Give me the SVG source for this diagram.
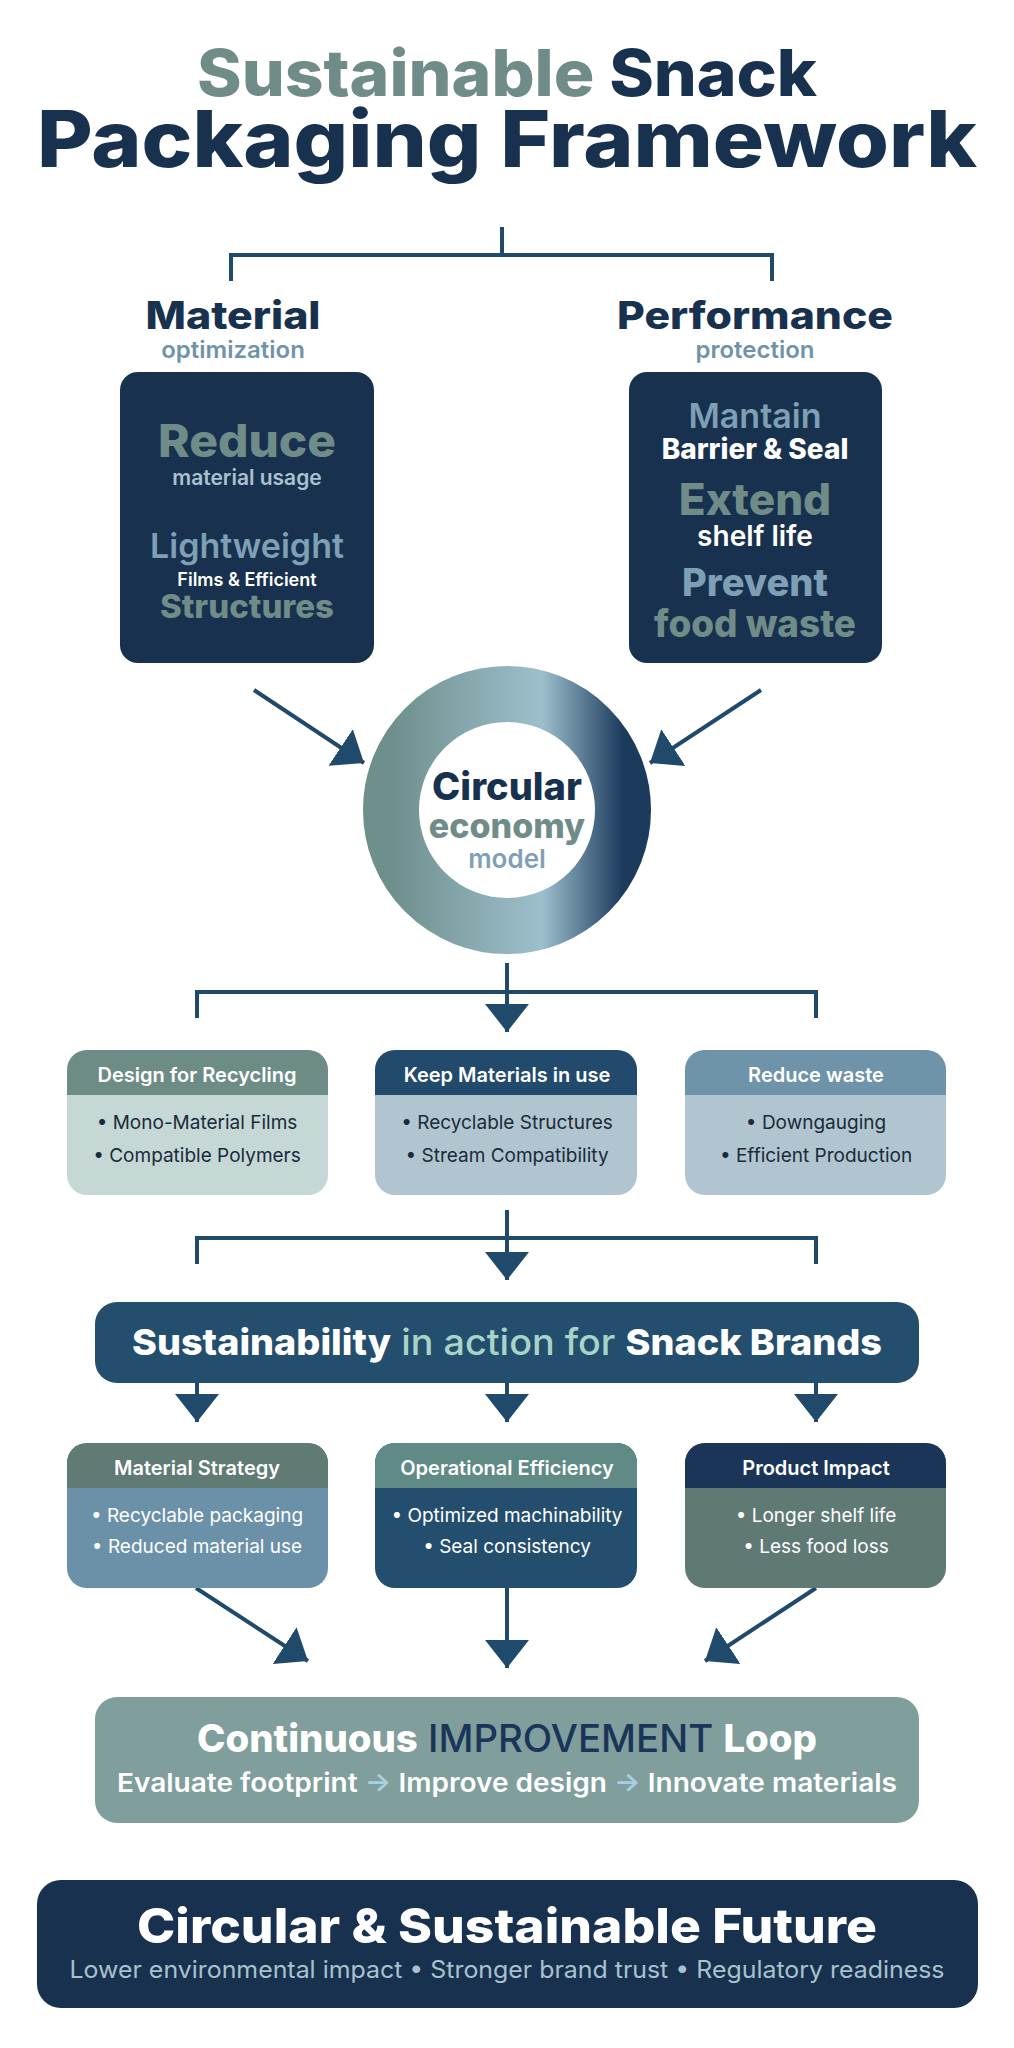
<svg xmlns="http://www.w3.org/2000/svg" width="1014" height="2048" viewBox="0 0 1014 2048">
<defs>
<linearGradient id="ring" x1="0" y1="0" x2="1" y2="0">
<stop offset="0" stop-color="#6f8f8c"/><stop offset="0.65" stop-color="#9dbfcd"/><stop offset="1" stop-color="#1c3a5c"/>
</linearGradient>
<marker id="ah" viewBox="0 0 7 11" refX="7" refY="5.5" markerWidth="7" markerHeight="11" markerUnits="strokeWidth" orient="auto"><path d="M0,0 L7,5.5 L0,11 Z" fill="#1f4a6b"/></marker>
</defs>
<style>
text{font-family:Inter,"Open Sans","Liberation Sans",sans-serif;text-anchor:middle}
.b{font-weight:800}
.m{font-weight:600}
.ln{fill:none;stroke:#1f4a6b;stroke-width:4}
.ar{fill:none;stroke:#1f4a6b;stroke-width:4;marker-end:url(#ah)}
.hd{font-size:20px;font-weight:600;fill:#fff}
.bl{font-size:19px}
</style>
<rect width="1014" height="2048" fill="#fff"/>
<g id="title">
<text x="507" y="96" class="b" font-size="64" textLength="620" lengthAdjust="spacingAndGlyphs"><tspan fill="#6f8c89">Sustainable</tspan><tspan fill="#17314f"> Snack</tspan></text>
<text x="507" y="167" class="b" font-size="78" fill="#17314f" textLength="940" lengthAdjust="spacingAndGlyphs">Packaging Framework</text>
</g>
<g id="connectors">
<path class="ln" d="M502,227 V255 M231,281 V255 H772 V281"/>
<line class="ar" x1="254" y1="690" x2="364" y2="763"/>
<line class="ar" x1="761" y1="690" x2="650" y2="763"/>
<path class="ln" d="M197,1018 V992 H816 V1018"/>
<line class="ar" x1="507" y1="963" x2="507" y2="1032"/>
<path class="ln" d="M197,1264 V1238 H816 V1264"/>
<line class="ar" x1="507" y1="1210" x2="507" y2="1280"/>
<line class="ar" x1="197" y1="1383" x2="197" y2="1422"/>
<line class="ar" x1="507" y1="1383" x2="507" y2="1422"/>
<line class="ar" x1="816" y1="1383" x2="816" y2="1422"/>
<line class="ar" x1="196" y1="1588" x2="308" y2="1661"/>
<line class="ar" x1="507" y1="1588" x2="507" y2="1668"/>
<line class="ar" x1="816" y1="1588" x2="705" y2="1661"/>
</g>
<g id="material">
<text x="233" y="329" class="b" font-size="38" fill="#17314f" textLength="175" lengthAdjust="spacingAndGlyphs">Material</text>
<text x="233" y="358" class="m" font-size="24" fill="#6f93a8">optimization</text>
<rect x="120" y="372" width="254" height="291" rx="18" fill="#17314f"/>
<text x="247" y="457" class="b" font-size="45" fill="#6f8c89" textLength="178" lengthAdjust="spacingAndGlyphs">Reduce</text>
<text x="247" y="485" class="m" font-size="21" fill="#a9c1cf">material usage</text>
<text x="247" y="558" class="m" font-size="34" fill="#7f9fb5">Lightweight</text>
<text x="247" y="586" class="m" font-size="18" fill="#fff">Films &amp; Efficient</text>
<text x="247" y="618" class="b" font-size="33" fill="#6f8c89">Structures</text>
</g>
<g id="performance">
<text x="755" y="329" class="b" font-size="38" fill="#17314f" textLength="276" lengthAdjust="spacingAndGlyphs">Performance</text>
<text x="755" y="358" class="m" font-size="24" fill="#6f93a8">protection</text>
<rect x="629" y="372" width="253" height="291" rx="18" fill="#17314f"/>
<text x="755" y="428" class="m" font-size="34" fill="#7f9fb5">Mantain</text>
<text x="755" y="459" class="b" font-size="28" fill="#fff">Barrier &amp; Seal</text>
<text x="755" y="515" class="b" font-size="44" fill="#6f8c89">Extend</text>
<text x="755" y="546" class="m" font-size="28" fill="#fff">shelf life</text>
<text x="755" y="596" class="b" font-size="38" fill="#7f9fb5">Prevent</text>
<text x="755" y="637" class="b" font-size="38" fill="#6f8c89" textLength="202" lengthAdjust="spacingAndGlyphs">food waste</text>
</g>
<g id="circular">
<circle cx="507" cy="810" r="116" fill="none" stroke="url(#ring)" stroke-width="56"/>
<text x="507" y="800" class="b" font-size="38" fill="#17314f">Circular</text>
<text x="507" y="838" class="b" font-size="34" fill="#6f8c89">economy</text>
<text x="507" y="868" class="m" font-size="26" fill="#7f9fb5">model</text>
</g>
<g id="design">
<rect x="67" y="1050" width="261" height="145" rx="20" fill="#c5d8d5"/>
<path d="M67,1095 V1070 a20,20 0 0 1 20,-20 H308 a20,20 0 0 1 20,20 V1095 Z" fill="#6e8c86"/>
<text x="197" y="1082" class="hd">Design for Recycling</text>
<text x="197" y="1129" class="bl" fill="#1a2a3a">• Mono-Material Films</text>
<text x="197" y="1162" class="bl" fill="#1a2a3a">• Compatible Polymers</text>
</g>
<g id="keep">
<rect x="375" y="1050" width="262" height="145" rx="20" fill="#b1c5d0"/>
<path d="M375,1095 V1070 a20,20 0 0 1 20,-20 H617 a20,20 0 0 1 20,20 V1095 Z" fill="#214a6c"/>
<text x="507" y="1082" class="hd">Keep Materials in use</text>
<text x="507" y="1129" class="bl" fill="#1a2a3a">• Recyclable Structures</text>
<text x="507" y="1162" class="bl" fill="#1a2a3a">• Stream Compatibility</text>
</g>
<g id="reduce">
<rect x="685" y="1050" width="261" height="145" rx="20" fill="#b1c5d0"/>
<path d="M685,1095 V1070 a20,20 0 0 1 20,-20 H926 a20,20 0 0 1 20,20 V1095 Z" fill="#6f93a8"/>
<text x="816" y="1082" class="hd">Reduce waste</text>
<text x="816" y="1129" class="bl" fill="#1a2a3a">• Downgauging</text>
<text x="816" y="1162" class="bl" fill="#1a2a3a">• Efficient Production</text>
</g>
<g id="action">
<rect x="95" y="1302" width="824" height="81" rx="22" fill="#244e6e"/>
<text x="507" y="1355" font-size="36" textLength="750" lengthAdjust="spacingAndGlyphs"><tspan class="b" fill="#fff">Sustainability</tspan><tspan fill="#a8d4c8" font-weight="500"> in action for </tspan><tspan class="b" fill="#fff">Snack Brands</tspan></text>
</g>
<g id="strategy">
<rect x="67" y="1443" width="261" height="145" rx="20" fill="#6b91a8"/>
<path d="M67,1488 V1463 a20,20 0 0 1 20,-20 H308 a20,20 0 0 1 20,20 V1488 Z" fill="#607a74"/>
<text x="197" y="1475" class="hd">Material Strategy</text>
<text x="197" y="1522" class="bl" fill="#fff">• Recyclable packaging</text>
<text x="197" y="1553" class="bl" fill="#fff">• Reduced material use</text>
</g>
<g id="operational">
<rect x="375" y="1443" width="262" height="145" rx="20" fill="#244e6e"/>
<path d="M375,1488 V1463 a20,20 0 0 1 20,-20 H617 a20,20 0 0 1 20,20 V1488 Z" fill="#5f8a86"/>
<text x="507" y="1475" class="hd">Operational Efficiency</text>
<text x="507" y="1522" class="bl" fill="#fff">• Optimized machinability</text>
<text x="507" y="1553" class="bl" fill="#fff">• Seal consistency</text>
</g>
<g id="impact">
<rect x="685" y="1443" width="261" height="145" rx="20" fill="#5f7a74"/>
<path d="M685,1488 V1463 a20,20 0 0 1 20,-20 H926 a20,20 0 0 1 20,20 V1488 Z" fill="#1a3558"/>
<text x="816" y="1475" class="hd">Product Impact</text>
<text x="816" y="1522" class="bl" fill="#fff">• Longer shelf life</text>
<text x="816" y="1553" class="bl" fill="#fff">• Less food loss</text>
</g>
<g id="loop">
<rect x="95" y="1697" width="824" height="126" rx="22" fill="#7f9e9c"/>
<text x="507" y="1752" font-size="38" textLength="620" lengthAdjust="spacingAndGlyphs"><tspan class="b" fill="#fff">Continuous</tspan><tspan fill="#1a3558" font-weight="500"> IMPROVEMENT </tspan><tspan class="b" fill="#fff">Loop</tspan></text>
<text x="507" y="1792" class="m" font-size="26" fill="#fff" textLength="780" lengthAdjust="spacingAndGlyphs">Evaluate footprint <tspan fill="#a8d0e0">→</tspan> Improve design <tspan fill="#a8d0e0">→</tspan> Innovate materials</text>
</g>
<g id="future">
<rect x="37" y="1880" width="941" height="128" rx="24" fill="#17314f"/>
<text x="507" y="1943" class="b" font-size="48" fill="#fff" textLength="740" lengthAdjust="spacingAndGlyphs">Circular &amp; Sustainable Future</text>
<text x="507" y="1978" font-size="24" fill="#a9c1cf" textLength="875" lengthAdjust="spacingAndGlyphs">Lower environmental impact • Stronger brand trust • Regulatory readiness</text>
</g>
</svg>
